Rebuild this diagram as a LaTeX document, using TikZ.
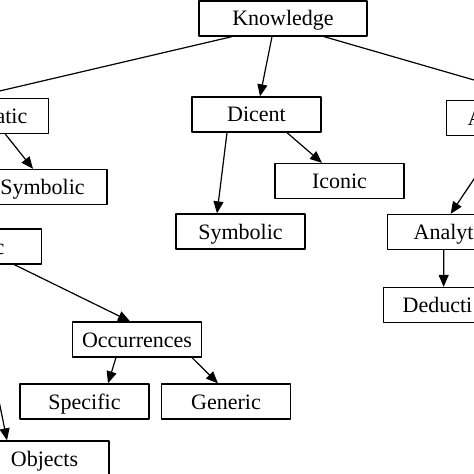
\documentclass[tikz,border=0pt]{standalone}
\usepackage{fontspec}
\setmainfont{Liberation Serif}
\usetikzlibrary{arrows.meta}
\begin{document}
\begin{tikzpicture}[x=1bp, y=-1bp, font=\fontsize{22bp}{26bp}\selectfont, line join=round,
	>={Triangle[length=12bp,width=10bp]},
	box/.style={draw, line width=1.3bp, minimum width=129bp, minimum height=35bp, inner sep=0pt, text height=17bp, text depth=2bp},
	link/.style={->, line width=1.2bp}]
	\useasboundingbox (0,0) rectangle (474,474);
	\clip (0,0) rectangle (474,474);
	\fill[white] (0,0) rectangle (474,474);
	\node[box, minimum width=168bp] (know) at (283,18.5) {Knowledge};
	\node[box, anchor=east, text width=87bp, align=right, inner xsep=21bp] (atic) at (49,116) {atic};
	\node[box] (dicent) at (256.5,114.5) {Dicent};
	\node[box, anchor=west, text width=87bp, align=left, inner xsep=21bp] (arg) at (446,118) {A};
	\node[box] (symleft) at (42.5,187) {Symbolic};
	\node[box] (iconic) at (339.5,181) {Iconic};
	\node[box] (symmid) at (240.5,231.5) {Symbolic};
	\node[box, anchor=east, text width=55bp, align=right, inner xsep=37bp] (ic) at (42,246.5) {c};
	\node[box, anchor=west, text width=77bp, align=left, inner xsep=26bp] (analyt) at (387,232) {Analyt};
	\node[box, anchor=west, text width=91bp, align=left, inner xsep=19bp] (deduct) at (383,305) {Deducti};
	\node[box] (occ) at (137,339.5) {Occurrences};
	\node[box] (spec) at (84.5,401.5) {Specific};
	\node[box] (gen) at (226,401.5) {Generic};
	\node[box] (obj) at (44.5,458.5) {Objects};
	% links
	\draw[link] ([xshift=-51bp]know.south) -- ([xshift=-13.5bp]atic.north);
	\draw[link] ([xshift=-11bp]know.south) -- ([xshift=3.5bp]dicent.north);
	\draw[link] ([xshift=41bp]know.south) -- ([xshift=31.5bp]arg.north);
	\draw[link] ([xshift=21.5bp]atic.south) -- ([xshift=-9.5bp]symleft.north);
	\draw[link] ([xshift=-29.5bp]dicent.south) -- ([xshift=-23.5bp]symmid.north);
	\draw[link] ([xshift=30.5bp]dicent.south) -- ([xshift=-17.5bp]iconic.north);
	\draw[link] ([xshift=-8.5bp]arg.south) -- ([xshift=-1.5bp]analyt.north);
	\draw[link] ([xshift=-8.5bp]analyt.south) -- ([xshift=-4.5bp]deduct.north);
	\draw[link] ([xshift=37.5bp]ic.south) -- ([xshift=-7bp]occ.north);
	\draw[link] ([xshift=-5.5bp]ic.south) -- ([xshift=-37.5bp]obj.north);
	\draw[link] ([xshift=-21bp]occ.south) -- ([xshift=23.5bp]spec.north);
	\draw[link] ([xshift=55bp]occ.south) -- ([xshift=-8bp]gen.north);
\end{tikzpicture}
\end{document}
